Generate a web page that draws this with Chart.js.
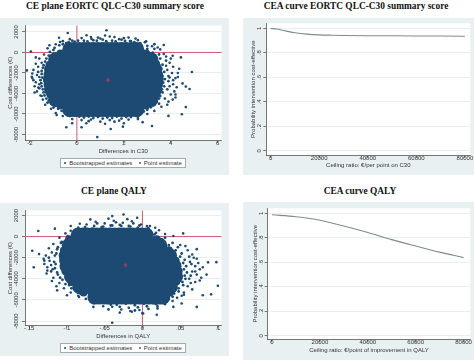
<!DOCTYPE html>
<html>
<head>
<meta charset="utf-8">
<script src="https://cdn.jsdelivr.net/npm/chart.js@4.4.1/dist/chart.umd.min.js"></script>
<style>
  body { margin: 0; width: 474px; height: 361px; position: relative; background: #fff; overflow: hidden; }
  canvas { position: absolute; }
  .ttl { position: absolute; width: 240px; text-align: center; white-space: nowrap;
         font: bold 9.4px "Liberation Serif", "Times New Roman", serif; color: #111; line-height: 12px; }
  .leg { position: absolute; width: 124px; height: 8px; border: 1px solid #a3abaf; background: #fff;
         display: flex; align-items: center; justify-content: space-around;
         font: 6px "Liberation Sans", Arial, sans-serif; color: #333; line-height: 8px; }
  .leg i { display: inline-block; width: 2px; height: 2px; border-radius: 50%; margin-right: 3px; vertical-align: middle; }
</style>
</head>
<body>
<div class="ttl" style="left:-5px;top:0px">CE plane EORTC QLC-C30 summary score</div>
<div class="ttl" style="left:236px;top:0px">CEA curve EORTC QLC-C30 summary score</div>
<div class="ttl" style="left:-6px;top:185px">CE plane QALY</div>
<div class="ttl" style="left:240px;top:185px">CEA curve QALY</div>

<canvas id="ceC30" width="229" height="157" style="left:0;top:18px"></canvas>
<canvas id="ceaC30" width="231" height="157" style="left:243px;top:18px"></canvas>
<canvas id="ceQaly" width="229" height="153" style="left:0;top:203px"></canvas>
<canvas id="ceaQaly" width="231" height="158" style="left:243px;top:202px"></canvas>

<div class="leg" style="left:60px;top:158px"><span><i style="background:#1d4a72"></i>Bootstrapped estimates</span><span><i style="background:#8a4060"></i>Point estimate</span></div>
<div class="leg" style="left:60px;top:343px"><span><i style="background:#1d4a72"></i>Bootstrapped estimates</span><span><i style="background:#8a4060"></i>Point estimate</span></div>

<script>
// 目盛り
const costTicks = [2000, 0, -2000, -4000, -6000, -8000];
const costLabels = ["2000", "0", "-2000", "-4000", "-6000", "-8000"];
const c30Ticks = [-2, 0, 2, 4, 6];
const c30Labels = ["-2", "0", "2", "4", "6"];
const qalyTicks = [-0.15, -0.1, -0.05, 0, 0.05, 0.1];
const qalyLabels = ["-.15", "-.1", "-.05", "0", ".05", ".1"];
const probTicks = [0, 0.2, 0.4, 0.6, 0.8, 1];
const probLabels = ["0", ".2", ".4", ".6", ".8", "1"];
const ceilTicks = [0, 20000, 40000, 60000, 80000];
const ceilLabels = ["0", "20000", "40000", "60000", "80000"];

// CE plane C30: ブートストラップ推定値 (密な部分 / 縁 / 外れ値) と点推定値
const c30Core = [
  [-0.3, 300], [0.1, 300], [0.5, 300], [0.9, 300], [1.3, 300], [1.7, 300], [2.1, 300], [2.55, 300],
  [-0.9, -680], [-0.5, -680], [-0.1, -680], [0.3, -680], [0.7, -680], [1.1, -680], [1.5, -680], [1.9, -680], [2.3, -680], [2.7, -680], [3.15, -680],
  [-1.08, -1660], [-0.7, -1660], [-0.3, -1660], [0.1, -1660], [0.5, -1660], [0.9, -1660], [1.3, -1660], [1.7, -1660], [2.1, -1660], [2.5, -1660], [2.9, -1660], [3.32, -1660],
  [-1.13, -2640], [-0.75, -2640], [-0.35, -2640], [0.05, -2640], [0.45, -2640], [0.85, -2640], [1.25, -2640], [1.65, -2640], [2.05, -2640], [2.45, -2640], [2.85, -2640], [3.2, -2640], [3.38, -2640],
  [-1.08, -3620], [-0.7, -3620], [-0.3, -3620], [0.1, -3620], [0.5, -3620], [0.9, -3620], [1.3, -3620], [1.7, -3620], [2.1, -3620], [2.5, -3620], [2.9, -3620], [3.32, -3620],
  [-0.9, -4600], [-0.5, -4600], [-0.1, -4600], [0.3, -4600], [0.7, -4600], [1.1, -4600], [1.5, -4600], [1.9, -4600], [2.3, -4600], [2.7, -4600], [3.15, -4600],
  [-0.3, -5580], [0.1, -5580], [0.5, -5580], [0.9, -5580], [1.3, -5580], [1.7, -5580], [2.1, -5580], [2.55, -5580]
];
const c30Rim = [
  [-0.1, 630], [0.3, 630], [0.7, 630], [1.1, 630], [1.5, 630], [1.9, 630], [2.33, 630],
  [-0.1, -5910], [0.3, -5910], [0.7, -5910], [1.1, -5910], [1.5, -5910], [1.9, -5910], [2.33, -5910],
  [-0.7, -100], [-1.13, -1150], [-1.25, -2150], [-1.25, -3130], [-1.13, -4110], [-0.7, -5170],
  [2.95, -100], [3.38, -1170], [3.5, -2150], [3.5, -3130], [3.38, -4110], [2.95, -5170]
];
const c30Fringe = [
  [-0.75, 700], [-0.45, 900], [-0.1, 1050], [0.3, 1150], [0.7, 1200], [1.1, 1250], [1.5, 1150], [1.9, 1250],
  [2.3, 1100], [2.7, 900], [3.0, 650], [3.3, 350], [3.5, -200], [-1.0, 250], [-1.2, -300], [-1.35, -900],
  [-1.45, -1500], [-1.5, -2100], [-1.55, -2700], [-1.5, -3300], [-1.42, -3900], [-1.3, -4500], [-1.1, -5000],
  [-0.8, -5500], [-0.5, -5900], [-0.1, -6150], [0.3, -6350], [0.7, -6400], [1.1, -6450], [1.5, -6400],
  [1.9, -6450], [2.3, -6300], [2.7, -6000], [3.0, -5600], [3.3, -5100], [3.5, -4500], [3.65, -3900],
  [3.72, -3300], [3.75, -2600], [3.72, -1900], [3.65, -1200], [3.55, -600], [3.9, -2300], [3.85, -3600],
  [3.8, -800], [-1.65, -1900], [-1.6, -3500], [0.5, -6700], [1.6, -6750], [2.6, -6500], [0.9, 1450],
  [2.0, 1400], [-0.6, 1100], [3.3, 800], [-1.25, -4900], [3.5, -5000],
  [-0.35, 1000], [0.05, 1150], [0.45, 1080], [0.85, 1150], [1.25, 1100], [1.65, 1080], [2.05, 1120],
  [2.45, 1000], [2.75, 700], [-0.95, 450], [-1.15, 50], [-1.3, -600], [-1.42, -1250], [-1.5, -1800],
  [-1.48, -2450], [-1.52, -3000], [-1.45, -3600], [-1.38, -4200], [-1.2, -4700], [-0.95, -5250],
  [-0.65, -5700], [-0.3, -6050], [0.1, -6250], [0.5, -6250], [0.9, -6300], [1.3, -6350], [1.7, -6250],
  [2.1, -6300], [2.5, -6100], [2.85, -5750], [3.15, -5350], [3.4, -4800], [3.55, -4250], [3.62, -3600],
  [3.68, -2950], [3.65, -2300], [3.6, -1600], [3.45, -900], [3.25, -300], [3.0, 350], [-0.6, 800], [2.9, 1000]
];
const c30Halo = [
  [3.8, -400], [3.95, -1000], [4.1, -1400], [3.85, -1700], [4.05, -2000], [4.2, -2500], [3.9, -2800],
  [4.1, -3100], [4.25, -3400], [3.95, -3300], [4.0, -4100], [4.15, -3800], [3.75, -4500], [3.9, -4800],
  [3.6, -5300], [3.7, -150], [3.55, 300], [3.95, -2450], [4.3, -2000], [4.0, -600], [3.85, -5100],
  [4.2, -4400], [3.8, -1300], [4.1, -2700],
  [-1.6, -600], [-1.75, -1100], [-1.65, -1400], [-1.85, -1700], [-1.7, -2200], [-1.9, -2500], [-1.75, -2900],
  [-1.6, -3100], [-1.8, -3300], [-1.7, -3800], [-1.55, -4200], [-1.45, -4600], [-1.4, -200], [-1.9, -2050],
  [-1.6, -2400], [-1.35, -5100], [-1.25, 400], [-1.5, -1000],
  [-0.3, 1300], [0.2, 1400], [0.6, 1500], [1.0, 1350], [1.4, 1550], [1.8, 1300], [2.2, 1450], [2.6, 1200],
  [2.95, 1100], [3.2, 600], [-0.9, 800], [-0.2, 1150], [1.2, 1650], [2.5, 1350],
  [-0.6, -6200], [-0.2, -6500], [0.2, -6600], [0.6, -6550], [1.0, -6750], [1.4, -6600], [1.8, -6650],
  [2.2, -6550], [2.6, -6300], [3.0, -6000], [3.3, -5700], [1.2, -6950], [0.4, -6900], [2.0, -6900],
  [-0.9, -5900], [-1.1, -5500]
];
const c30Outliers = [
  [1.26, 2160], [-0.39, 1900], [-1.96, 100], [0.41, 1680], [-0.76, 1430], [-1.17, 700], [1.6, 1500],
  [3.7, 730], [4.43, -480], [4.9, -1900], [4.64, -3330], [4.8, -3560], [4.64, -5330], [4.47, -6030],
  [3.9, -6190], [3.2, -7175], [1.96, -7240], [1.44, -7460], [0.87, -8255], [0.2, -7300], [-0.45, -7300],
  [-0.86, -6100], [-1.5, -4250], [-1.64, -3430], [-2.13, -1750], [-1.92, -2380], [-1.85, -2700],
  [-1.75, -480], [-1.28, -1110], [-1.0, -5400], [3.23, 0], [4.08, -320], [4.36, -1590], [4.5, -3020],
  [4.08, -4600], [3.44, 480], [2.26, 1110], [0.0, 800], [-0.72, 1016], [0.62, 1330], [4.2, -4100],
  [4.3, -2400], [-1.8, -3900], [2.8, -6800], [-0.2, -6900]
];
const c30Estimate = [[1.32, -2700]];

// CE plane QALY
const qalyCore = [
  [-0.085, 150], [-0.073, 150], [-0.061, 150], [-0.049, 150], [-0.037, 150], [-0.025, 150], [-0.013, 150], [-0.001, 150], [0.005, 150],
  [-0.097, -830], [-0.085, -830], [-0.073, -830], [-0.061, -830], [-0.049, -830], [-0.037, -830], [-0.025, -830], [-0.013, -830], [-0.001, -830], [0.011, -830], [0.023, -830],
  [-0.101, -1810], [-0.089, -1810], [-0.077, -1810], [-0.065, -1810], [-0.053, -1810], [-0.041, -1810], [-0.029, -1810], [-0.017, -1810], [-0.005, -1810], [0.007, -1810], [0.019, -1810], [0.031, -1810], [0.036, -1810],
  [-0.1, -2790], [-0.088, -2790], [-0.076, -2790], [-0.064, -2790], [-0.052, -2790], [-0.04, -2790], [-0.028, -2790], [-0.016, -2790], [-0.004, -2790], [0.008, -2790], [0.02, -2790], [0.032, -2790], [0.042, -2790],
  [-0.094, -3770], [-0.082, -3770], [-0.07, -3770], [-0.058, -3770], [-0.046, -3770], [-0.034, -3770], [-0.022, -3770], [-0.01, -3770], [0.002, -3770], [0.014, -3770], [0.026, -3770], [0.038, -3770], [0.044, -3770],
  [-0.083, -4750], [-0.071, -4750], [-0.059, -4750], [-0.047, -4750], [-0.035, -4750], [-0.023, -4750], [-0.011, -4750], [0.001, -4750], [0.013, -4750], [0.025, -4750], [0.037, -4750],
  [-0.063, -5730], [-0.051, -5730], [-0.039, -5730], [-0.027, -5730], [-0.015, -5730], [-0.003, -5730], [0.009, -5730], [0.021, -5730], [0.027, -5730]
];
const qalyRim = [
  [-0.079, 480], [-0.067, 480], [-0.055, 480], [-0.043, 480], [-0.031, 480], [-0.019, 480], [-0.007, 480],
  [-0.057, -6060], [-0.045, -6060], [-0.033, -6060], [-0.021, -6060], [-0.009, -6060], [0.003, -6060], [0.015, -6060],
  [-0.097, -250], [-0.104, -1320], [-0.105, -2300], [-0.102, -3280], [-0.094, -4290], [-0.078, -5300],
  [0.019, -250], [0.035, -1300], [0.044, -2300], [0.048, -3280], [0.045, -4260], [0.036, -5300]
];
const qalyFringe = [
  [-0.1, -150], [-0.09, 250], [-0.078, 550], [-0.066, 750], [-0.054, 900], [-0.042, 1050], [-0.03, 1100],
  [-0.018, 1000], [-0.006, 850], [0.006, 650], [0.018, 350], [0.03, -100], [0.04, -600], [-0.06, 1250],
  [-0.035, 1350], [-0.012, 1250], [-0.108, -600], [-0.113, -1200], [-0.116, -1800], [-0.117, -2400],
  [-0.116, -3000], [-0.112, -3600], [-0.106, -4100], [-0.097, -4600], [-0.124, -2000], [-0.121, -3300],
  [-0.088, -5100], [-0.077, -5500], [-0.066, -5900], [-0.054, -6200], [-0.042, -6450], [-0.03, -6650],
  [-0.018, -6750], [-0.006, -6700], [0.006, -6600], [0.018, -6400], [0.03, -6100], [0.04, -5700],
  [0.048, -5200], [-0.045, -6900], [-0.01, -7000], [0.02, -6800], [0.047, -1000], [0.052, -1600],
  [0.056, -2200], [0.058, -2800], [0.059, -3400], [0.057, -4000], [0.054, -4600], [0.065, -2600],
  [0.064, -3700], [0.062, -1900],
  [-0.088, 550], [-0.076, 900], [-0.064, 1000], [-0.052, 950], [-0.04, 1050], [-0.028, 1000], [-0.016, 950],
  [-0.004, 1050], [0.008, 800], [0.016, 200], [0.026, -300], [0.035, -800], [-0.099, 50], [-0.107, -500],
  [-0.112, -1000], [-0.114, -1600], [-0.115, -2600], [-0.113, -3400], [-0.109, -3900], [-0.102, -4500],
  [-0.094, -4900], [-0.082, -5400], [-0.07, -5800], [-0.058, -6250], [-0.046, -6300], [-0.034, -6450],
  [-0.022, -6350], [-0.01, -6500], [0.002, -6350], [0.014, -6300], [0.026, -6200], [0.035, -5900],
  [0.042, -5400], [0.048, -4900], [0.053, -4300], [0.056, -3700], [0.055, -3100], [0.054, -2500],
  [0.05, -1900], [0.044, -1300]
];
const qalyHalo = [
  [0.06, -1300], [0.066, -1700], [0.072, -2100], [0.063, -2400], [0.07, -2800], [0.076, -3100], [0.066, -3300],
  [0.072, -3600], [0.062, -4000], [0.07, -4300], [0.06, -4700], [0.066, -5000], [0.055, -5300], [0.05, -800],
  [0.057, -900], [0.074, -2500], [0.078, -3900], [0.068, -2000], [0.064, -4400], [0.052, -5600],
  [-0.118, -700], [-0.124, -1100], [-0.12, -1500], [-0.128, -1800], [-0.123, -2300], [-0.13, -2600],
  [-0.126, -2900], [-0.119, -3100], [-0.127, -3500], [-0.118, -3900], [-0.11, -4400], [-0.104, -4900],
  [-0.11, -100], [-0.102, 300], [-0.131, -2100], [-0.121, -2700], [-0.114, -4700], [-0.095, -5300],
  [-0.085, 850], [-0.074, 1150], [-0.062, 1400], [-0.05, 1250], [-0.038, 1500], [-0.026, 1300], [-0.014, 1450],
  [-0.002, 1150], [0.01, 1000], [0.022, 600], [0.03, 250], [-0.045, 1700], [-0.02, 1650], [-0.095, 550],
  [-0.075, -5900], [-0.064, -6300], [-0.052, -6600], [-0.04, -6650], [-0.028, -6900], [-0.016, -7050],
  [-0.004, -6950], [0.008, -6850], [0.02, -6600], [0.03, -6400], [0.04, -6100], [0.046, -5800],
  [-0.03, -7200], [0.0, -7250], [-0.085, -5600], [0.055, -5500]
];
const qalyOutliers = [
  [-0.04, 1940], [-0.025, 2090], [-0.069, 1625], [-0.083, 1220], [-0.095, 1000], [-0.116, 750],
  [-0.138, 530], [-0.146, -1340], [-0.137, -1660], [-0.144, -2900], [-0.13, -2280], [-0.126, -3220],
  [-0.113, -5090], [-0.1, -5560], [-0.084, -5720], [-0.065, -6660], [-0.04, -8160], [-0.014, -7125],
  [0.001, -7280], [0.019, -7400], [0.041, -6660], [0.052, -6340], [0.072, -6660], [0.08, -5560],
  [0.091, -5470], [0.1, -4650], [0.098, -2420], [0.087, -2440], [0.08, -2900], [0.076, -4160],
  [0.072, -1190], [0.054, 300], [0.041, 60], [0.017, 840], [0.006, 1000], [-0.007, 1780],
  [-0.12, -4200], [0.07, -3300], [0.085, -3600]
];
const qalyEstimate = [[-0.0225, -2700]];

// CEA曲線
const ceilC30 = [0, 2500, 5000, 7500, 10000, 15000, 20000, 25000, 30000, 40000, 50000, 60000, 70000, 80000];
const probC30 = [0.998, 0.993, 0.983, 0.972, 0.963, 0.952, 0.946, 0.943, 0.941, 0.939, 0.938, 0.937, 0.936, 0.935];
const ceilQaly = [0, 10000, 20000, 30000, 40000, 50000, 60000, 70000, 80000];
const probQaly = [0.988, 0.972, 0.944, 0.896, 0.843, 0.785, 0.733, 0.683, 0.638];

const FONT = '"Liberation Sans", Arial, sans-serif';
const NAVY = "#1d4a72";
const pts = (a) => a.map(([x, y]) => ({ x: x, y: y }));

// 背景 (外側は薄い青灰色、プロット領域は白)
const stataBg = {
  id: "stataBg",
  beforeDraw(chart) {
    const { ctx, chartArea: a } = chart;
    ctx.save();
    ctx.fillStyle = "#e9f0f2";
    ctx.fillRect(0, 0, chart.width, chart.height);
    ctx.fillStyle = "#ffffff";
    ctx.fillRect(a.left, a.top, a.right - a.left, a.bottom - a.top);
    ctx.restore();
  },
};

// x=0, y=0 の参照線
const refLines = {
  id: "refLines",
  beforeDatasetsDraw(chart, args, opts) {
    if (!opts.show) return;
    const { ctx, chartArea: a, scales } = chart;
    const x0 = scales.x.getPixelForValue(0);
    const y0 = scales.y.getPixelForValue(0);
    ctx.save();
    ctx.strokeStyle = "#cd5a70";
    ctx.lineWidth = 1;
    ctx.beginPath();
    ctx.moveTo(x0, a.top);
    ctx.lineTo(x0, a.bottom);
    ctx.moveTo(a.left, y0);
    ctx.lineTo(a.right, y0);
    ctx.stroke();
    ctx.restore();
  },
};

function axis(opt) {
  const vertical = opt.vertical;
  return {
    type: "linear",
    min: opt.min,
    max: opt.max,
    afterBuildTicks: (s) => { s.ticks = opt.ticks.map((v) => ({ value: v })); },
    afterFit: (s) => {
      if (vertical) s.width = opt.size; else s.height = opt.size;
      s.paddingLeft = 0; s.paddingRight = 0; s.paddingTop = 0; s.paddingBottom = 0;
    },
    ticks: {
      callback: (v, i) => opt.labels[i],
      font: { size: 6, family: FONT },
      color: "#333",
      padding: opt.tickPad,
      minRotation: vertical ? 90 : 0,
      maxRotation: vertical ? 90 : 0,
      crossAlign: "center",
    },
    grid: {
      drawOnChartArea: vertical,
      color: "#e3ebee",
      lineWidth: 0.8,
      tickLength: 3,
      tickColor: "#555",
      tickWidth: 0.8,
    },
    border: { color: "#555", width: 0.8 },
    title: {
      display: true,
      text: opt.title,
      font: { size: 6, family: FONT },
      color: "#333",
      padding: { top: opt.titlePad, bottom: 0 },
    },
  };
}

function panel(id, box, datasets, xOpt, yOpt, showRef) {
  const cv = document.getElementById(id);
  new Chart(cv.getContext("2d"), {
    data: { datasets: datasets },
    options: {
      responsive: false,
      animation: false,
      devicePixelRatio: 1,
      layout: {
        padding: {
          left: 0,
          top: box.top,
          right: cv.width - box.right,
          bottom: cv.height - box.bottom - xOpt.size,
        },
      },
      scales: {
        x: axis(Object.assign({ vertical: false }, xOpt)),
        y: axis(Object.assign({ vertical: true, size: box.left }, yOpt)),
      },
      plugins: {
        legend: { display: false },
        tooltip: { enabled: false },
        refLines: { show: showRef },
      },
    },
    plugins: [stataBg, refLines],
  });
}

function dots(data, r, color, order) {
  return { type: "scatter", data: pts(data), pointRadius: r, pointBackgroundColor: color, pointBorderWidth: 0, order: order };
}

function cloud(core, rim, fringe, halo, outliers, estimate) {
  return [
    dots(estimate, 1.8, "#8a4060", 0),
    dots(core, 7.5, NAVY, 1),
    dots(rim, 4, NAVY, 2),
    dots(fringe, 1.4, NAVY, 3),
    dots(halo, 1.3, NAVY, 4),
    dots(outliers, 1.3, NAVY, 5),
  ];
}

function curve(ceil, prob) {
  return [{
    type: "line",
    data: ceil.map((c, i) => ({ x: c, y: prob[i] })),
    borderColor: "#7f8a94",
    borderWidth: 1.1,
    pointRadius: 0,
    cubicInterpolationMode: "monotone",
    fill: false,
  }];
}

// CE plane C30
panel("ceC30", { left: 25, top: 4.7, right: 222.7, bottom: 122 },
  cloud(c30Core, c30Rim, c30Fringe, c30Halo, c30Outliers, c30Estimate),
  { min: -2.21, max: 6.16, ticks: c30Ticks, labels: c30Labels, title: "Differences in C30", size: 15, tickPad: 0, titlePad: 0 },
  { min: -8540, max: 2630, ticks: costTicks, labels: costLabels, title: "Cost differences (€)", tickPad: -1.8, titlePad: 6.9 },
  true);

// CEA curve C30
panel("ceaC30", { left: 23.3, top: 5.3, right: 227.3, bottom: 137 },
  curve(ceilC30, probC30),
  { min: -1770, max: 82200, ticks: ceilTicks, labels: ceilLabels, title: "Ceiling ratio: €/per point on C30", size: 14, tickPad: 0, titlePad: 0 },
  { min: -0.033, max: 1.04, ticks: probTicks, labels: probLabels, title: "Probability intervention cost-effective", tickPad: 1.8, titlePad: 6.4 },
  false);

// CE plane QALY
panel("ceQaly", { left: 25, top: 6.3, right: 222.7, bottom: 122.7 },
  cloud(qalyCore, qalyRim, qalyFringe, qalyHalo, qalyOutliers, qalyEstimate),
  { min: -0.1556, max: 0.1048, ticks: qalyTicks, labels: qalyLabels, title: "Differences in QALY", size: 14.6, tickPad: 0, titlePad: 0 },
  { min: -8440, max: 2470, ticks: costTicks, labels: costLabels, title: "Cost differences (€)", tickPad: -1.8, titlePad: 6.4 },
  true);

// CEA curve QALY
panel("ceaQaly", { left: 24.7, top: 6.3, right: 227.3, bottom: 137.3 },
  curve(ceilQaly, probQaly),
  { min: -1795, max: 82800, ticks: ceilTicks, labels: ceilLabels, title: "Ceiling ratio: €/point of improvement in QALY", size: 15, tickPad: 0, titlePad: 0 },
  { min: -0.029, max: 1.041, ticks: probTicks, labels: probLabels, title: "Probability intervention cost-effective", tickPad: 1.2, titlePad: 8.7 },
  false);
</script>
</body>
</html>
